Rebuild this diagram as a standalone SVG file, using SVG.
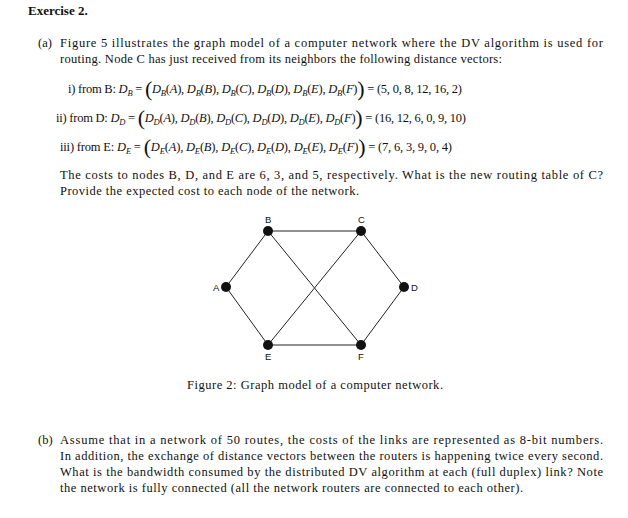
<svg xmlns="http://www.w3.org/2000/svg" width="628" height="518" viewBox="0 0 628 518">
<style>
text{font-family:"Liberation Serif","DejaVu Serif",serif;font-size:12.5px;fill:#111}
.b{font-weight:bold;font-size:13px}
.i{font-style:italic}
.s{font-size:8.5px;font-style:italic}
.p{font-size:22px}
.lab{font-family:"Liberation Sans",Arial,sans-serif;font-size:9.5px}
.e{stroke:#222;stroke-width:1}
.n{fill:#111}
</style>
<rect width="628" height="518" fill="#fff"/>
<text x="28" y="15" class="b">Exercise 2.</text>
<text x="38" y="47">(a)</text>
<text x="60" y="47" textLength="543">Figure 5 illustrates the graph model of a computer network where the DV algorithm is used for</text>
<text x="60" y="63" textLength="442">routing. Node C has just received from its neighbors the following distance vectors:</text>

<text x="68" y="93" textLength="394">i) from B: <tspan class="i">D</tspan><tspan class="s" dy="3">B</tspan><tspan dy="-3"> = </tspan><tspan class="p" dy="3">(</tspan><tspan dy="-3" class="i">D</tspan><tspan class="s" dy="3">B</tspan><tspan dy="-3">(<tspan class="i">A</tspan>), </tspan><tspan class="i">D</tspan><tspan class="s" dy="3">B</tspan><tspan dy="-3">(<tspan class="i">B</tspan>), </tspan><tspan class="i">D</tspan><tspan class="s" dy="3">B</tspan><tspan dy="-3">(<tspan class="i">C</tspan>), </tspan><tspan class="i">D</tspan><tspan class="s" dy="3">B</tspan><tspan dy="-3">(<tspan class="i">D</tspan>), </tspan><tspan class="i">D</tspan><tspan class="s" dy="3">B</tspan><tspan dy="-3">(<tspan class="i">E</tspan>), </tspan><tspan class="i">D</tspan><tspan class="s" dy="3">B</tspan><tspan dy="-3">(<tspan class="i">F</tspan>)</tspan><tspan class="p" dy="3">)</tspan><tspan dy="-3"> = (5, 0, 8, 12, 16, 2)</tspan></text>

<text x="56" y="122" textLength="410">ii) from D: <tspan class="i">D</tspan><tspan class="s" dy="3">D</tspan><tspan dy="-3"> = </tspan><tspan class="p" dy="3">(</tspan><tspan dy="-3" class="i">D</tspan><tspan class="s" dy="3">D</tspan><tspan dy="-3">(<tspan class="i">A</tspan>), </tspan><tspan class="i">D</tspan><tspan class="s" dy="3">D</tspan><tspan dy="-3">(<tspan class="i">B</tspan>), </tspan><tspan class="i">D</tspan><tspan class="s" dy="3">D</tspan><tspan dy="-3">(<tspan class="i">C</tspan>), </tspan><tspan class="i">D</tspan><tspan class="s" dy="3">D</tspan><tspan dy="-3">(<tspan class="i">D</tspan>), </tspan><tspan class="i">D</tspan><tspan class="s" dy="3">D</tspan><tspan dy="-3">(<tspan class="i">E</tspan>), </tspan><tspan class="i">D</tspan><tspan class="s" dy="3">D</tspan><tspan dy="-3">(<tspan class="i">F</tspan>)</tspan><tspan class="p" dy="3">)</tspan><tspan dy="-3"> = (16, 12, 6, 0, 9, 10)</tspan></text>

<text x="60" y="151" textLength="392">iii) from E: <tspan class="i">D</tspan><tspan class="s" dy="3">E</tspan><tspan dy="-3"> = </tspan><tspan class="p" dy="3">(</tspan><tspan dy="-3" class="i">D</tspan><tspan class="s" dy="3">E</tspan><tspan dy="-3">(<tspan class="i">A</tspan>), </tspan><tspan class="i">D</tspan><tspan class="s" dy="3">E</tspan><tspan dy="-3">(<tspan class="i">B</tspan>), </tspan><tspan class="i">D</tspan><tspan class="s" dy="3">E</tspan><tspan dy="-3">(<tspan class="i">C</tspan>), </tspan><tspan class="i">D</tspan><tspan class="s" dy="3">E</tspan><tspan dy="-3">(<tspan class="i">D</tspan>), </tspan><tspan class="i">D</tspan><tspan class="s" dy="3">E</tspan><tspan dy="-3">(<tspan class="i">E</tspan>), </tspan><tspan class="i">D</tspan><tspan class="s" dy="3">E</tspan><tspan dy="-3">(<tspan class="i">F</tspan>)</tspan><tspan class="p" dy="3">)</tspan><tspan dy="-3"> = (7, 6, 3, 9, 0, 4)</tspan></text>

<text x="60" y="179" textLength="543">The costs to nodes B, D, and E are 6, 3, and 5, respectively. What is the new routing table of C?</text>
<text x="60" y="195" textLength="299">Provide the expected cost to each node of the network.</text>

<g id="connectors">
<line class="e" x1="268" y1="231" x2="361" y2="231"/>
<line class="e" x1="268" y1="345" x2="361" y2="345"/>
<line class="e" x1="226" y1="287" x2="268" y2="231"/>
<line class="e" x1="226" y1="287" x2="268" y2="345"/>
<line class="e" x1="404" y1="287" x2="361" y2="231"/>
<line class="e" x1="404" y1="287" x2="361" y2="345"/>
<line class="e" x1="268" y1="231" x2="361" y2="345"/>
<line class="e" x1="361" y1="231" x2="268" y2="345"/>
</g>
<g id="node-A"><circle class="n" cx="226" cy="287" r="5"/><text class="lab" x="213" y="290.5">A</text></g>
<g id="node-B"><circle class="n" cx="268" cy="231" r="5"/><text class="lab" x="265" y="223">B</text></g>
<g id="node-C"><circle class="n" cx="361" cy="231" r="5"/><text class="lab" x="358" y="223">C</text></g>
<g id="node-D"><circle class="n" cx="404" cy="287" r="5"/><text class="lab" x="411" y="290.5">D</text></g>
<g id="node-E"><circle class="n" cx="268" cy="345" r="5"/><text class="lab" x="265" y="360">E</text></g>
<g id="node-F"><circle class="n" cx="361" cy="345" r="5"/><text class="lab" x="358" y="360">F</text></g>

<text x="187" y="389" textLength="256">Figure 2: Graph model of a computer network.</text>

<text x="38" y="444">(b)</text>
<text x="60" y="444" textLength="543">Assume that in a network of 50 routes, the costs of the links are represented as 8-bit numbers.</text>
<text x="60" y="460" textLength="543">In addition, the exchange of distance vectors between the routers is happening twice every second.</text>
<text x="60" y="476" textLength="543">What is the bandwidth consumed by the distributed DV algorithm at each (full duplex) link? Note</text>
<text x="60" y="492" textLength="463">the network is fully connected (all the network routers are connected to each other).</text>
</svg>
